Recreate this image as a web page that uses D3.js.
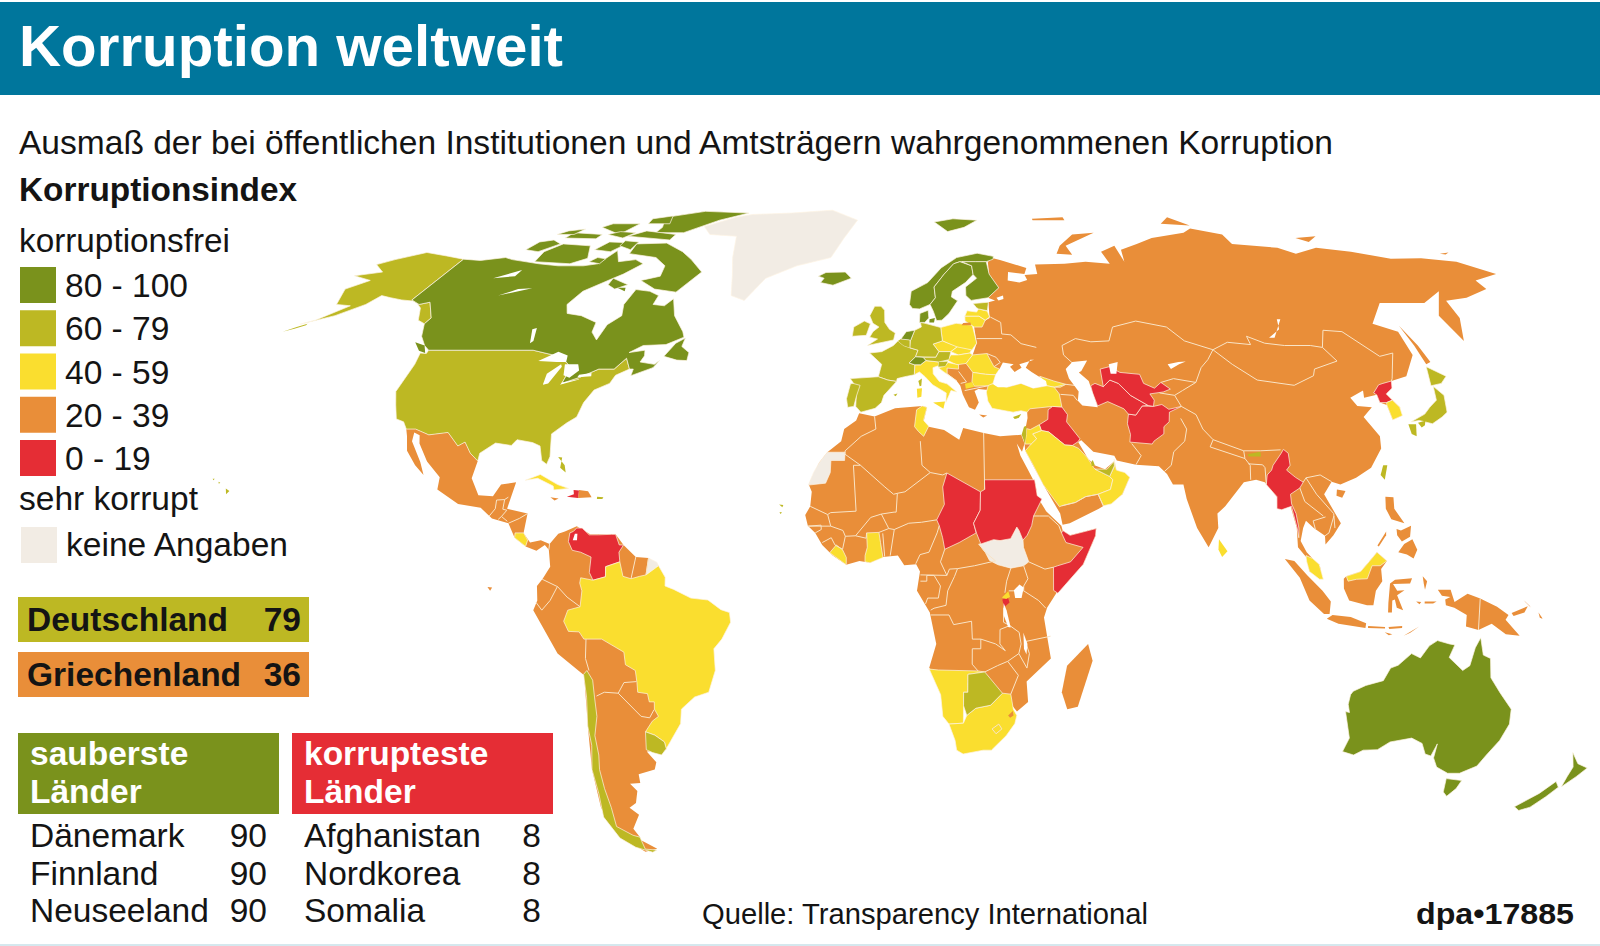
<!DOCTYPE html>
<html lang="de">
<head>
<meta charset="utf-8">
<title>Korruption weltweit</title>
<script src="https://cdn.jsdelivr.net/npm/d3@7"></script>
<style>
  html, body { margin: 0; padding: 0; background: #fff; }
  svg { display: block; font-family: "Liberation Sans", Arial, sans-serif; }
</style>
</head>
<body>
<svg id="chart" width="1600" height="946"></svg>
<script>
// Legend and tables
const legendLabels = ['80 - 100', '60 - 79', '40 - 59', '20 - 39', '0 - 19'];
const highlightNames = ['Deutschland', 'Griechenland'];
const highlightValues = [79, 36];
const cleanestNames = ['Dänemark', 'Finnland', 'Neuseeland'];
const cleanestValues = [90, 90, 90];
const mostCorruptNames = ['Afghanistan', 'Nordkorea', 'Somalia'];
const mostCorruptValues = [8, 8, 8];

// Country outlines as rough [lon, lat] rings, one list per index band
const band20to39 = [
  // Eurasia (everything not overdrawn by another band below)
  [[30.8,69.8],[33,69.4],[41,67.5],[40,66],[35,66.5],[34.5,64.5],[38,64],[40.5,64.6],[40,65.8],[44,66],[44,68.3],[53.5,68.5],[60.5,69],[68,68.5],[67,71.5],[72.5,73],[73,69],[74,72],[80.5,73.5],[87,75],[100,76.5],[104,77.7],[113,76],[113,73.5],[127,72.5],[131,71],[140,72.5],[150,71.5],[160,69.7],[170,69.8],[180,69],[187,66],[181,65],[178,64.5],[178,62.5],[169,60.5],[162,59.8],[161,56],[156.5,51],[155.7,56.5],[163,62],[155,59.3],[142,59.3],[135,54.7],[140.5,53],[140,48],[135,43.5],[130.5,42.5],[127.5,39.8],[129.5,37],[129,35.2],[126.5,34.5],[126.5,37.5],[125,38],[125,39.6],[121.5,39],[122,40.5],[118,39],[119,37.3],[122.5,37],[119.5,35],[122,31],[121.5,28.5],[118,24.5],[114,22.4],[110,21],[108,21.6],[105.8,19],[109,13],[107,10.5],[105,8.6],[105,10.4],[102.5,12],[100.8,13.5],[100,12],[99.2,9.3],[100.5,7],[103.5,4],[104,1.4],[101,3],[100.3,6],[98.5,8],[98.5,12],[97.5,16.5],[94.5,16],[94.5,18.5],[92,21.5],[90,22],[87,21.5],[82,16.5],[80,15],[80,12],[78,8.8],[77.5,8],[75,12],[73,18],[72.5,21],[70,21],[68.8,23.2],[67,24.8],[61.5,25.1],[57,26],[56.5,27],[51.5,27.8],[48.8,30.2],[48,29.8],[50,26.5],[51.5,25],[54,24.2],[56.3,25.8],[56.7,24],[59.8,22.5],[57.8,19],[52,16],[45,13],[43.3,12.7],[42.8,15],[39,21],[35,28],[34.9,29.5],[35,31.5],[36,34.8],[36,36.5],[30.5,36.5],[27.3,37],[26.3,39.5],[26.5,40.6],[24,40.8],[23,40.4],[24,38],[23,36.5],[21.5,37],[20,39.7],[19.4,41.5],[18.5,42.5],[16,44],[16,45.2],[19,46],[22.8,48],[24,50.5],[23.5,54],[28,56],[28,59.5],[30,59.9],[28,60.5],[31.5,62.8],[29,66],[29,69]],
  // Africa (the far south is overdrawn by its own countries)
  [[-5.9,35.8],[-2,35.1],[3,36.8],[9.8,37.3],[11,37],[10.2,34],[11.5,33],[15.3,32.3],[19,30.3],[20,32.7],[25,31.7],[29,31],[32.3,31.2],[34.2,31.3],[34.9,29.5],[34.2,27.8],[33,29.5],[33.8,27],[35.5,24],[37.2,21],[37.5,18.5],[39.5,15.5],[43,12.5],[43.3,11.5],[45,10.5],[51.2,11.9],[51,10.4],[48,4.5],[42,-1],[39.5,-4.5],[38.8,-6.5],[39.5,-10],[40.6,-15],[35,-19.8],[35.5,-24],[32.9,-26],[31,-24],[25,-21],[14,-18.5],[11.8,-17],[13.5,-12],[12,-5.5],[9,-1],[9.7,3],[8.8,4.5],[6,4.3],[4.5,6.3],[1,6],[-2,4.8],[-4.5,5.2],[-7.6,4.4],[-10.8,6.3],[-13.3,8.5],[-15,11],[-16.8,12.5],[-17.5,14.7],[-16.4,16.5],[-16.2,19.5],[-17,21],[-14.8,25.5],[-13,27.7],[-9.8,30],[-9.3,32.5],[-6.5,34.3]],
  // South America (Brazil is overdrawn)
  [[-77.4,8.7],[-75.5,10.8],[-74,11.3],[-71.3,12.4],[-68,10.7],[-62,10.7],[-60,8.5],[-57,6],[-54,5.8],[-51.6,4.2],[-52,0],[-50,-10],[-50,-20],[-52,-30],[-53.5,-33.9],[-58.4,-34.3],[-56.7,-36.5],[-57.6,-38],[-62,-39],[-62.3,-40.8],[-65,-41],[-63.8,-42.5],[-65.3,-45],[-67.5,-46],[-65.8,-47.5],[-69,-50.5],[-68.4,-52.3],[-68.5,-53],[-65.2,-54.8],[-69,-55.5],[-74,-52],[-75,-46],[-73.4,-38],[-71.5,-30],[-70.3,-18.5],[-76,-14],[-81,-5],[-80,-3],[-80,0],[-78.7,1.5],[-77,4],[-77.5,7.5]],
  // Mexico and Central America
  [[-117.1,32.5],[-114.8,32.5],[-111,31.3],[-106.5,31.8],[-103,29],[-101.5,29.8],[-99.5,27.5],[-97.2,25.9],[-97.8,22.3],[-95.5,18.8],[-92,18.6],[-90.5,21],[-87,21.5],[-87.7,18.3],[-88.2,16],[-83.2,15],[-83.7,11],[-82,9],[-79.5,9.5],[-77.4,8.7],[-77.5,7.5],[-78.5,8.5],[-80.4,7.3],[-83,8.2],[-85.7,10],[-87.5,13],[-91.5,14],[-94.5,16.2],[-100,17],[-105.5,20],[-105.5,22.5],[-109.4,25.8],[-112.5,29.5],[-113.2,31.2],[-114.8,31.8],[-114.5,30],[-111,25.7],[-109.5,23],[-112,25],[-115,28],[-116.2,31]],
  // Islands
  [[142,54.3],[143,50],[143.5,46.5],[142,46],[142,50]],
  [[109,20],[111,19.7],[110,18.3],[108.7,18.7]],
  [[52,71],[57,70.7],[56,73],[68,76.5],[60,76],[54,73]],
  [[95,79],[105,78.5],[100,81]],
  [[137,75],[145,75.5],[140,74]],
  [[178.5,71],[182,71.3],[180,70.8]],
  [[48,80.5],[60,81],[60,80],[48,80]],
  [[24,35.5],[26,35.3],[25,34.9]],
  [[49.3,-12],[50.5,-15.5],[47.5,-25],[45,-25.5],[43.5,-22],[44.5,-16.5]],
  [[-71.7,18.2],[-68.5,18.4],[-69.5,19.6],[-71.7,19.9]],
  [[-78.3,18.4],[-76.3,18.1],[-77.2,17.7]],
  [[-91.6,-0.2],[-90.5,-0.3],[-91,-1]],
  // Indonesia, New Guinea, Philippines
  [[95.3,5.6],[97.5,5.2],[100.5,2.2],[104,-1],[106,-3.2],[105.8,-5.8],[104.5,-5.8],[101,-3],[98.7,1.7]],
  [[105.2,-6.8],[106.5,-6],[110.8,-6.4],[114.5,-7.7],[114.4,-8.7],[108,-7.8]],
  [[115,-8.3],[119,-8.5],[119,-8.8],[115,-8.7]],
  [[119.8,-8.5],[123,-8.3],[123,-8.7],[120,-8.9]],
  [[119,-9.6],[120.8,-10],[120,-10.2]],
  [[123.5,-10.3],[127,-8.4],[125,-9.7]],
  [[109,1.5],[109.6,2],[113,3],[115,5],[117,7],[119.2,5.2],[117.8,3.5],[118,1],[116.5,-1],[116,-4],[114.5,-4],[110.3,-3],[109,-0.5]],
  [[119.5,-3.5],[119.8,0.5],[121,1.3],[125,1.6],[124.5,0.5],[120.5,0.4],[121.5,-1],[123.2,-0.9],[121.5,-1.9],[123,-5],[121.5,-4.5],[121,-2.8],[120.4,-3],[120.4,-5.5],[119.5,-5.5]],
  [[127.5,2],[128.5,1],[128,-0.8],[127.7,0.5]],
  [[128,-3.2],[130.8,-3.2],[130,-3.6],[128,-3.6]],
  [[126,-3.2],[127.2,-3.3],[126.8,-3.8]],
  [[131,-0.8],[134,-0.8],[135,-3.3],[138,-1.6],[141,-2.6],[145,-4.3],[147.8,-6],[147.2,-7],[150.8,-10.3],[147.5,-10],[144,-7.8],[141,-9.1],[138,-8.4],[138,-6],[135,-4.5],[133,-4],[132.8,-2.8],[134,-2.3],[132,-2]],
  [[148.5,-5.6],[152.2,-4.2],[151.5,-5.5],[149,-6.2]],
  [[151,-2.8],[153,-4.5],[152.5,-4]],
  [[154.8,-5.5],[155.9,-6.8],[155.2,-6.6]],
  [[120.3,18.5],[122.2,18.4],[122,16],[124,13],[121,13.8],[120,16]],
  [[122,7],[123.5,8.7],[125.5,9.7],[126.5,7.5],[125.5,5.7],[124,6.5]],
  [[122,11.8],[123,11.5],[125.5,12.5],[125,10.2],[123,9.2],[122,10.5]],
  [[117.2,8.4],[119.5,11.3],[119.4,10.5],[117.5,8.2]]
];

// Orange spots inside neighbours of another band: Swaziland, Kaliningrad
const band20to39Enclaves = [
  [[30.8,-26.8],[31.9,-25.9],[32.1,-26.8],[31.3,-27.3]],
  [[20.5,54.9],[22.5,55],[22.7,54.4],[20,54.4]]
];

const band0to19 = [
  [[16,23.4],[24,19.5],[23.9,15.7],[22.3,13],[22.9,11],[18.9,9],[15.5,7.6],[15,10],[14.2,12.5],[13.6,13.7],[15.4,16.9],[15,20.5]],
  [[24,19.5],[25,20],[25,22],[37,22],[37.5,18.7],[38.6,18],[36.5,14.5],[36,12.5],[34.9,10.5],[33.9,9.5],[33,11.5],[32.5,12.2],[31,9.8],[28.5,9.4],[27,9.6],[24,8.7],[23,10.9],[22.3,13],[23.9,15.7]],
  [[43,11],[43.3,11.5],[45,10.5],[51.2,11.9],[51,10.4],[48,4.5],[42,-1.5],[41,-0.9],[41,3.9],[42,4.2],[45,5],[48,8],[44,9]],
  [[29,-2.8],[30.3,-2.4],[30.7,-3.4],[29.4,-4.4]],
  [[-74.4,18.5],[-71.7,18.2],[-71.7,19.8],[-73,19.9],[-72.8,19]],
  [[-71.3,12],[-70,12],[-68.2,10.6],[-66,10.6],[-63,10.7],[-62,10.7],[-61,8.5],[-60,8.5],[-61,7],[-60.7,5],[-64,4],[-64,1.9],[-66.9,1.2],[-67.8,2.8],[-67.5,6],[-70,7],[-72,7.4],[-73,9.2],[-72.8,11],[-72,11.3]],
  [[92.3,21],[92.8,23],[94,24],[94.5,25],[97,27.5],[97.7,28.3],[98.7,27.5],[98.6,25],[97.6,24],[99.5,22.5],[101.2,21.5],[100.2,20.3],[97.8,19],[97.8,17],[98.6,15],[99,12],[98.8,10],[98.6,12],[97.7,16.5],[95.3,15.8],[94.2,16],[94.5,18.5]],
  [[60.6,29.8],[61,31.4],[60.6,33.6],[61.2,35.6],[63,35.4],[65,37.3],[67.8,37.2],[70,37.6],[71.5,36.6],[74.8,37.2],[71.5,36],[71,34],[69.5,33],[69.2,31.5],[66.5,30],[66,29.4]],
  [[52.8,41.5],[53,40],[53.8,37.3],[56.5,38.2],[60.3,36.7],[61.2,35.6],[63,35.4],[65,37.3],[66.5,37.4],[62.5,39.5],[60,42],[58,42.7],[56,41.3],[54,42]],
  [[56,45],[56,41.3],[58,42.7],[60,42],[62.5,39.5],[66.5,37.4],[67.8,37.2],[68.3,38.5],[67.5,39.8],[71,40.2],[73,40.8],[71,42.2],[69,41],[66.5,42],[66,43.9],[61,44.3],[58.5,45.5]],
  [[38.8,33.4],[41,34.5],[41.3,36.5],[42.5,37.2],[44.8,37.1],[46,35.5],[45.6,34],[48.5,30.5],[48,29.9],[46.5,29.1],[44.7,29.2],[41,31.9],[39.2,32.2]],
  [[124.4,40],[125,39.6],[125,38],[126.7,38],[128.4,38.5],[127.5,39.8],[129.7,41],[130.5,42.5],[128,42],[126.7,41.7]]
];

const band40to59 = [
  [[9.8,37.3],[11,37],[10.2,34.3],[11.5,33.1],[10.3,31],[9,32],[8,33],[8.4,36.5]],
  [[-3.2,5],[-2,4.8],[1,5.9],[0.4,9],[0,11.1],[-2.9,11],[-2.7,8],[-3.2,6.3]],
  [[-11.5,6.9],[-7.6,4.4],[-7.6,5.9],[-8.5,7.5],[-10,8.5]],
  [[11.8,-17.2],[14,-17.4],[23.4,-17.6],[25,-17.8],[21,-18.3],[21,-22],[20,-22],[20,-28.4],[16.5,-28.6],[15,-27],[14.5,-22.5]],
  [[16.5,-28.6],[20,-28.4],[20.8,-26.8],[23,-25.3],[26.5,-24.7],[29.3,-22.2],[31.3,-22.4],[32,-25.5],[32.9,-26.8],[32.5,-28.5],[30.5,-31],[27,-34],[25,-34],[20,-34.8],[18.4,-34],[18,-32]],
  [[28.9,-2.4],[30.4,-1.1],[30.8,-2.3],[29.9,-2.7]],
  [[-51.6,4.2],[-50,1.8],[-50,0],[-48,-0.7],[-44,-2.5],[-40,-2.9],[-37,-4.9],[-35,-5.5],[-34.8,-7.5],[-37,-11],[-39,-13],[-39,-17.5],[-41,-22],[-44.5,-23],[-48,-25.5],[-48.7,-28.5],[-52,-32.2],[-53.4,-33.7],[-53.5,-32.3],[-55.5,-30.9],[-57.6,-30.2],[-55.5,-28],[-53.8,-27],[-54.5,-25.5],[-54.3,-24],[-55.5,-24],[-55.7,-22.3],[-58,-22],[-57.9,-20],[-58,-17.5],[-60.2,-16.3],[-60.3,-13.7],[-65.3,-11],[-69.5,-11],[-70.5,-9.5],[-73,-9.4],[-74,-7.3],[-72.9,-5],[-70,-4.3],[-69.5,-1],[-70,0.6],[-69.8,1.7],[-66.9,1.2],[-64,1.9],[-64,4],[-60.7,5],[-59.9,2],[-58,1.5],[-56,2],[-54.5,2.3]],
  [[-85.7,11],[-83.7,11],[-82.6,9.5],[-83,8.2],[-85.7,10]],
  [[-84.9,21.9],[-81.5,23.1],[-77,21],[-74.2,20.2],[-77.7,19.9],[-78,20.7],[-82,22.3]],
  [[35,28],[36.5,29.4],[37.9,30.5],[37,31.5],[39.2,32.2],[41,31.9],[44.7,29.2],[46.5,29.1],[48,28.5],[50,26.5],[51.3,24.5],[51.6,24.2],[55,22.7],[55.7,22],[55,20],[52,19],[49,18.5],[46.5,17.3],[43.2,16.6],[42.7,16.4],[39,21],[36.5,25.5]],
  [[35,29.4],[36.5,29.4],[37.9,30.5],[37,31.5],[39.2,32.2],[38.8,33.4],[36.5,32.4],[35.6,32.6],[35.4,31.3]],
  [[55.7,22],[55,22.7],[56.3,24.8],[56.4,26.3],[56.7,24],[58.7,23.5],[59.8,22.5],[57.8,19],[55,17],[53.1,16.6],[52,19],[55,20]],
  [[40,43.5],[43.5,42.5],[46.5,41.8],[45,41.2],[43.4,41.2],[41.6,41.5]],
  [[26,40.2],[26.7,41.9],[28,41.9],[31.3,41.2],[35,42],[38,41],[41.6,41.5],[43.4,41.2],[44.5,39.8],[44.8,37.1],[42.5,37.2],[36.7,36.7],[36,36],[34.5,36.3],[32.5,36],[30.5,36.3],[27.3,36.8],[26.3,38.3]],
  [[80,9.7],[81.9,7.2],[80.6,6],[79.8,7.5]],
  [[126.7,38],[128.4,38.5],[129.5,37],[129.3,35.3],[126.5,34.4],[126.5,37.5]],
  [[100.3,6.3],[101.8,5.7],[103.3,4.5],[104.2,1.4],[103.3,1.4],[101,3],[100.4,5]],
  [[109.6,2],[113,3],[115,5],[117,7],[119.2,5.2],[117.6,4.2],[115.7,4.2],[114.5,1.5],[112,1.4],[110,1]],
  [[7.5,43.8],[7.5,45.9],[9,45.9],[10.4,46.8],[13.8,46.5],[13.7,45.7],[12.3,45.3],[12.4,44],[14,42.4],[16,41.9],[18.5,40.2],[17,40.5],[16.5,39.5],[15.7,38],[15.8,40],[12.3,41.7],[10.3,43.4],[8.8,44.4]],
  [[12.5,38],[15.5,38.2],[15.1,36.7]],
  [[8.3,40.9],[9.6,41],[9.5,39.2],[8.5,39]],
  [[14.2,53.9],[18.5,54.8],[23,54.4],[24,50.5],[22.6,49],[19,49.4],[14.7,51]],
  [[12.2,50.3],[14.7,51],[18.7,49.7],[17,48.7],[13.8,48.7]],
  [[17,48.7],[18.7,49.7],[22.5,49.1],[22.1,48.4],[19,48]],
  [[16.2,47],[17,48],[19,48],[22.1,48.4],[22.8,48],[21,46.2],[18.5,45.9],[16.2,46.8]],
  [[22.8,48],[26.6,48.3],[28.3,45.5],[29.7,45],[28.6,43.8],[26,43.9],[22.7,44.3],[21,46.2]],
  [[22.7,44.3],[26,43.9],[28.6,43.8],[27.8,42],[26.4,41.5],[23,41.4],[22.4,42.3]],
  [[13.7,45.3],[15.5,45.6],[16.2,46.4],[19,45.9],[19,45],[16,45.2],[16,44],[18.5,42.5],[15,44.5]],
  [[20.6,41.9],[22.4,42.3],[23,41.3],[20.8,40.9]],
  [[21,55.3],[21,56.4],[25,56.4],[26.7,55.5],[25.7,54],[23.5,54],[22.8,54.4]],
  [[21,56.4],[21.7,57.6],[24.4,57.3],[25,58],[27.5,57.5],[28,56.2],[26.7,55.5],[25,56.4]]
];

const band60to79 = [
  [[-123,49],[-95,49],[-89,48],[-84.5,46.5],[-82.5,45.3],[-83,42],[-79,43.3],[-75,45],[-71,45],[-69,47.3],[-67,45],[-70,43.7],[-70.7,42],[-74,40.6],[-75.5,38],[-76,35],[-78,33.8],[-81,31.5],[-80,26.8],[-80.4,25.2],[-81.8,26],[-83,29],[-85,29.7],[-89,30.3],[-90,29.1],[-94,29.6],[-97.2,27.5],[-97.2,25.9],[-99.5,27.5],[-101.5,29.8],[-103,29],[-106.5,31.8],[-111,31.3],[-114.8,32.5],[-117.1,32.5],[-118.5,34],[-120.6,34.6],[-122.5,37.5],[-124.3,40.3],[-124,46],[-124.7,48.4],[-123,48.3]],
  [[-141,69.6],[-148,70.4],[-156.5,71.3],[-163,69.5],[-166.5,68.3],[-161,66.5],[-168,65.6],[-161,64.5],[-165,62.5],[-161.5,59],[-157,58.7],[-162,55.5],[-165,54.6],[-158,56.5],[-153,59],[-151.5,61],[-148,60.5],[-144,60],[-139.5,59.7],[-136,58.2],[-133,55.5],[-130.3,54.7],[-130,56],[-135,59.5],[-137.5,59],[-141,60]],
  [[-163,54.7],[-165,54],[-167.5,53],[-165,53.7],[-163,54.4]],
  [[-156,20.2],[-155,19.7],[-155.6,19]],
  [[-158.2,21.6],[-157.7,21.4],[-158,21.2]],
  [[-159.8,22.2],[-159.3,22.2],[-159.5,21.9]],
  [[-67.2,18.5],[-65.7,18.4],[-65.9,18],[-67.2,18]],
  [[-78,26.7],[-77,26.6],[-77,24.5],[-75.5,23.5],[-76,25]],
  [[-23.8,16.9],[-22.8,16.8],[-23,16.3]],
  [[-23.6,15.3],[-23,15.2],[-23.4,14.9]],
  [[-70.4,-18.3],[-69.5,-17.5],[-68.4,-19.5],[-68.5,-23],[-68.7,-27],[-70.2,-31],[-70.5,-35],[-71.5,-38],[-72,-42],[-72.3,-46],[-73.2,-50],[-70,-51.9],[-68.4,-52.3],[-68.6,-54.9],[-65.5,-55.1],[-67,-55.6],[-71,-54.5],[-74,-52.5],[-75.5,-48],[-74,-43],[-73.4,-38],[-71.6,-33],[-71.4,-29],[-70.4,-23]],
  [[-58.4,-33.9],[-57.6,-30.2],[-55.5,-30.9],[-53.5,-32.3],[-53.4,-33.7],[-54.9,-35],[-57,-34.5]],
  [[21,-18.3],[25,-17.8],[29.3,-22.2],[26.5,-24.7],[23,-25.3],[20.8,-26.8],[20,-24.8],[20,-22],[21,-22]],
  [[-5.5,50],[1.4,51.2],[1.7,52.7],[0,53.5],[-1.5,55],[-2,57.7],[-3.2,58.6],[-5,58.6],[-6,56.5],[-4.8,54.8],[-3,54],[-4.5,53],[-5.2,51.8],[-3,51.4]],
  [[-10,52],[-6.2,52.2],[-5.5,54.7],[-7.3,55.3],[-10,54]],
  [[-1.8,43.4],[-1.2,46],[-4.7,48.4],[-1.5,48.7],[1.5,50],[2.6,51],[4.2,50],[6,49.5],[8.2,49],[7.6,47.6],[6,46.3],[7.5,45.9],[7.5,43.8],[5,43.4],[3.1,43],[3,42.4],[0.7,42.7]],
  [[8.6,42.5],[9.5,43],[9.4,41.5],[9,41.4]],
  [[-9,43],[-1.8,43.4],[0.7,42.7],[3,42.4],[0,39.5],[-0.5,38],[-2,36.8],[-5.5,36],[-6.9,37.2],[-7,39.5],[-8,42]],
  [[-8.8,41.9],[-8.2,42],[-6.3,41.6],[-6.9,39.5],[-7.4,37.2],[-8.9,37],[-9.4,38.8]],
  [[2.4,39.6],[3.4,39.9],[3,39.3]],
  [[2.6,51],[3.4,51.4],[5.8,51.2],[6,49.5],[4.2,50]],
  [[6,51],[7,53.3],[8.8,54],[8.5,55],[9.8,54.8],[14.2,53.9],[14.7,51],[12.2,50.3],[13.8,48.7],[13,47.5],[7.6,47.6],[8.2,49],[6,49.5]],
  [[9.6,47.5],[13,47.5],[13.8,48.7],[17,48.7],[16.5,47],[13.8,46.5],[10.4,46.8]],
  [[13.7,45.5],[13.8,46.5],[16.2,46.6],[15.5,45.6]],
  [[23.5,59.2],[28,59.5],[27.5,57.6],[25,58],[24.4,58.3]],
  [[32.4,35],[34.5,35.6],[33.8,34.8],[32.8,34.6]],
  [[34.3,31.3],[35,29.5],[35.4,31.3],[35.6,33.2],[35,33]],
  [[51.6,24.2],[54.5,24.2],[56.3,25.8],[56.3,24.9],[55,22.7]],
  [[50.8,24.8],[51.6,25],[51.2,26.1],[50.8,25.7]],
  [[88.8,27.3],[92,27.8],[92,26.8],[89,26.8]],
  [[121,25],[122,25],[120.8,22],[120,23]],
  [[130.9,34],[135,35.6],[137,37],[139.5,38.5],[140.5,41.4],[142,39.5],[140.8,36],[139,35],[136,33.6],[133,34.3]],
  [[140,41.5],[141.6,45.5],[145.3,43.5],[143,42]],
  [[130,33.5],[131.9,33.5],[131,31],[130,31.5]],
  [[132.5,33.8],[134.5,34.2],[134,33.3],[133,32.8]]
];

const band80to100 = [
  [[-141,69.6],[-135,69.3],[-128,70],[-125,69.5],[-115,68.5],[-108,68],[-100,68],[-96,68.5],[-94,71.8],[-90,69],[-85,69.5],[-81.5,68.5],[-85,66],[-87,65],[-93,62],[-94.5,59],[-92.5,57],[-88,56.5],[-82.5,55],[-82,52.9],[-79.5,51.2],[-79,54.5],[-76.5,56.5],[-78,59],[-77.5,62.4],[-73,62],[-69.5,61],[-69.5,59],[-66,58.7],[-64.5,60.3],[-61.5,56.5],[-57,53],[-56,51.8],[-60,50.2],[-66,50],[-69,48.5],[-65,49],[-64.5,47.8],[-65,46.5],[-61,46],[-60,46.8],[-61,45.3],[-66,43.6],[-66,45],[-67,45],[-69,47.3],[-71,45],[-75,45],[-79,43.3],[-83,42],[-82.5,45.3],[-84.5,46.5],[-89,48],[-95,49],[-123,49],[-125,50],[-128,52],[-130.3,54.7],[-130,56],[-135,59.5],[-137.5,59],[-141,60]],
  [[-128.3,50.7],[-125,50],[-123.4,48.4],[-125.5,48.9]],
  [[-59.3,47.7],[-57.5,50.5],[-55.5,51.6],[-55.5,49.8],[-53,48.5],[-52.8,46.8],[-55.5,46.9]],
  [[-61,66.5],[-65,61.8],[-72,62.5],[-78,64.5],[-73,65.5],[-74,68],[-79,70],[-89,71],[-90,73.5],[-80,73.7],[-72,71.5],[-67,69.5]],
  [[-117,69],[-105,68.5],[-101,69.8],[-105,73],[-115,73.5],[-118,71.5]],
  [[-125,72],[-120,71.5],[-116,73.5],[-120,74.5],[-124,74]],
  [[-88,76.5],[-78,76.5],[-70,80],[-62,82.5],[-80,83.1],[-92,81],[-88,78]],
  [[-96,75.5],[-80,74.5],[-80,76],[-92,77]],
  [[-95,79],[-87,79],[-90,81.5],[-96,80.5]],
  [[-117,75],[-106,74.8],[-106,76],[-117,76.5]],
  [[-102,72],[-96,71.5],[-93,73.8],[-100,74]],
  [[-87,65],[-81,63.5],[-84,62.5],[-87,63.5]],
  [[-95,73],[-90,72],[-90,74],[-95,74.3]],
  [[-110,78],[-100,76],[-98,79],[-108,79]],
  [[-104,76],[-97,75],[-95,76.5],[-101,76.8]],
  [[-122,76],[-116,76],[-115,77.5],[-120,77]],
  [[-99.5,69],[-95.5,68.5],[-95,69.7],[-98,70]],
  [[-83.5,62.8],[-80.5,62],[-81,62.8]],
  [[5,59],[5.2,62],[10,64],[14,67.5],[19,70],[25.8,71.1],[31,70.3],[30.8,69.6],[28.5,69],[25,69],[20,69],[18,68.5],[15,66],[13.5,64.5],[12,63],[12.5,60.5],[11,59],[8,58],[6,58.1]],
  [[11,59],[12.5,60.5],[12,63],[13.5,64.5],[15,66],[18,68.5],[20,69],[23.7,68],[24,65.9],[21.5,64],[17.5,62],[17.2,60.7],[19,59.8],[16.5,57],[14.5,55.5],[13,55.4],[12,57.5]],
  [[20.7,69],[25,69],[28.5,69],[29,66],[31.5,62.8],[28,60.5],[23,59.9],[21.5,61],[21.5,63],[25,65],[24,65.9],[23.7,68]],
  [[8.2,55],[8.2,57],[10.5,57.7],[10.8,56],[9.7,55]],
  [[11,55.7],[12.5,56],[12.3,55],[11,55]],
  [[-24,65.5],[-22,66.4],[-16,66.5],[-13.6,65],[-18.7,63.4],[-22.7,64],[-22,65]],
  [[11,79.5],[16,76.8],[22,78],[27,80],[18,80.5]],
  [[3.4,51.4],[4.7,53],[7,53.3],[6,51],[5.8,51.2]],
  [[6,46.3],[7.6,47.6],[9.6,47.5],[10.4,46.8],[9,45.9],[7.5,45.9]],
  [[112.7,-22.5],[113.2,-21.8],[116,-20.6],[120,-19.6],[121.3,-17],[123,-16.4],[125.8,-14],[128,-14.9],[129.8,-12.4],[131.6,-11.3],[134.5,-12],[135.8,-12.2],[134.8,-14.8],[138.5,-17.5],[140,-16.5],[140.7,-12.8],[141.7,-10.7],[142.8,-14.3],[144.6,-15],[145.5,-19],[148.5,-22.2],[152,-25.5],[152.7,-28.6],[151.8,-32],[150,-35],[149,-37.3],[145.5,-38.8],[142.5,-38.8],[139,-37.5],[137.2,-35.6],[136.8,-32.7],[136.3,-35.2],[134.7,-34.8],[133,-32.6],[130,-31.5],[125,-32.3],[122.5,-33.9],[119,-34],[117,-35],[114,-34.3],[114.7,-31.5],[112.2,-26],[113.2,-26.2],[112.5,-24.5]],
  [[142.8,-39.9],[147,-40.3],[146.8,-42],[145.5,-43.6],[144,-42.7]],
  [[171.2,-34.5],[174,-36.8],[177,-37.7],[175.5,-39.5],[173.5,-41.6],[173.2,-39.5],[173.3,-37.5]],
  [[171.2,-40.5],[172.8,-41.7],[171.3,-43.7],[169.2,-45.9],[166.9,-46.6],[165,-45.8],[169,-43]]
];

const noDataRings = [
  [[-73,78.2],[-68,76],[-58,75.5],[-54,70],[-51,66],[-48,61],[-43.5,59.9],[-40,65],[-32,68],[-22,70],[-20,75],[-18,80],[-30,83.5],[-45,82.5],[-60,82],[-65,81]],
  [[-17.1,20.9],[-13,21.3],[-12,23.5],[-12,26],[-8.7,26],[-8.7,27.7],[-13,27.7],[-14.8,25.5],[-16,23.5]],
  [[24,8.7],[27,9.6],[28.5,9.4],[31,9.8],[32.5,12.2],[33,11.5],[33.9,9.5],[34,8],[35.2,5],[34,4.2],[31,3.7],[28,4.4],[26,5.3],[25,7],[23.5,8.7]],
  [[-54.5,2.3],[-54,5.8],[-52,4.9],[-51.6,4.2],[-52.5,2.6]]
];

// Lakes and inland seas
const waterRings = [
  [[28,41.7],[29,41.2],[31.3,41.2],[35,42],[38,41],[41.6,41.5],[41.5,42.5],[38,44.4],[36.6,45.3],[38,47],[39,47],[35,46],[35.5,45.3],[33.6,44.4],[32.5,45.5],[33.5,46],[30.7,46.4],[29.7,45],[28.6,43.8],[27.8,42]],
  [[47,45],[49,46.5],[53,46.8],[51,44.6],[50.3,44.3],[52.5,42.5],[53,40],[53.8,37],[50,37.4],[49,38.4],[49.5,40.3],[47.5,43]],
  [[58.5,46],[61,46.5],[60,44],[58.5,44]],
  [[104,51.7],[105.5,51.7],[110,55.7],[109,55.7],[108,53.5]],
  [[74,46],[77,46.5],[79,46.6],[77,46],[74.5,45]],
  [[30.5,60.5],[32.5,61],[32.5,60.2],[31,59.9]],
  [[31.7,-0.9],[33,0.3],[34,-0.3],[33.5,-2.5],[32,-2.5]],
  [[29.3,-3.5],[30,-5],[31,-8.6],[30.4,-8.5],[29.3,-6]],
  [[34,-9.7],[35,-12],[34.8,-14.2],[34.2,-13]],
  [[-92,46.7],[-88,48.7],[-85,47.9],[-84.5,46.5],[-87,46.5]],
  [[-88,44],[-85.5,46],[-85,45.5],[-86.5,42],[-87.7,41.7]],
  [[-84.5,46],[-81,46],[-80,44.7],[-81.7,43.2],[-83.5,43.7]],
  [[-83.3,41.7],[-79,42.8],[-79,42.9],[-83,42.2]],
  [[-79.7,43.3],[-76.2,43.5],[-76.5,44.2],[-79.5,43.8]],
  [[-97,50.5],[-99,53.5],[-98,53.8],[-96.5,51]],
  [[-117,61],[-109,62.7],[-113,62.5]],
  [[-124,65],[-118,67],[-118,65.5]],
  [[-71.6,10.8],[-71,10.8],[-71,9.5],[-72,9.5]]
];

// Borders inside the areas above
const borderLines = [
  // Central and South America
  [[-92.2,14.5],[-91,16],[-91,17.8],[-89.1,17.9],[-88.3,18.4]],[[-89.1,17.9],[-89.2,15.9],[-88.2,15.7],[-89.3,14.4],[-90,13.8]],[[-89.3,14.4],[-87.8,13.4]],[[-87.5,13],[-85,14],[-83.2,15]],[[-77.4,8.7],[-77.5,7.5]],
  [[-78.8,1.4],[-75.5,0],[-75.2,-0.1],[-73,-2.3],[-70,-4.3]],[[-80.3,-3.4],[-79,-5],[-77,-3],[-75.2,-0.1]],[[-69,-11],[-69.5,-15],[-69,-17.5]],[[-68,-22.8],[-66,-22],[-62.7,-22.2],[-61,-20],[-58,-19.8]],[[-62.7,-22.2],[-58,-27],[-56,-27.3],[-54.6,-25.6]],[[-57,6],[-58,1.5]],[[-54,5.8],[-54.5,2.3]],
  // Africa
  [[-2,35.1],[-1.5,32.5],[-5,31],[-8.7,28],[-8.7,27.3],[-4.8,25],[1.2,20.5],[3.3,19],[4.2,19.2],[6,19.5],[12,23.5],[10,25],[9.5,30]],[[12,23.5],[15,23],[16,23.4]],[[25,31.7],[25,20]],[[-4.8,25],[-6.5,25],[-5.5,15.5],[-11.5,15.2],[-12.2,14.8],[-16.4,16.5]],[[4.2,19.2],[4,15.3],[3.5,15.3],[0.5,14.9],[-2,14.2],[-5.5,10.4]],[[-12.2,14.8],[-11.4,12.4],[-8.5,11.5],[-7.9,10.3],[-5.5,10.4],[-3,9.9],[-2.9,11]],[[0,11.1],[2.3,11.9],[0.5,14.9]],[[-16.8,12.4],[-11.4,12.4]],[[-16.7,12.4],[-13.7,12.6],[-13.6,11.7],[-15,11]],[[-13.3,9],[-11.2,10],[-10.3,8.5],[-8.5,7.6],[-7.9,10.3]],[[1.4,6.1],[0.9,10.9]],[[2.7,6.3],[3.6,11.7],[2.3,11.9]],[[3.6,11.7],[7,13],[10,13.2],[13.6,13.7]],[[8.7,4.6],[9.7,6.5],[11.8,7],[13.7,11],[14.2,12.5]],[[15.5,7.6],[14.5,5],[16,2.2],[9.8,2.3]],[[9.8,1],[11.3,1],[11.3,2.2],[13,2.2],[14.5,0],[14,-2.5],[11.5,-2.5],[11,-3.7]],[[12.2,-5],[13,-4.6],[15.8,-4],[16.2,-1],[17.8,2],[18.5,3.6],[22.5,4.2],[27.4,5.2],[25,7],[23.5,8.7]],[[16,2.2],[16.6,3.5],[18.5,3.6]],[[31,3.7],[30,1],[29.6,-1.4]],[[29.3,-4.5],[29.3,-7.5],[30.8,-8.2],[28.5,-9],[28.5,-12],[29.8,-13.4],[27.5,-12],[24,-11],[22,-11],[21.8,-7.3],[17.6,-8],[16.5,-6],[12.2,-6]],[[24,-11],[24,-13],[22,-13],[22,-16.2],[23.4,-17.6]],[[25,-17.8],[28,-16.5],[30.4,-15.6],[33,-14]],[[33,-9.6],[33.5,-12],[33,-14],[35,-17],[35.5,-14],[34.5,-11.5],[40.4,-10.4]],[[30.8,-8.2],[33,-9.6]],[[30.4,-15.6],[33,-18.5],[31.3,-22.4]],[[34,-1],[37.5,-3],[39.2,-4.6]],[[34,4.2],[35,1.5],[34,0],[34,-1],[30.5,-1]],[[35.2,5],[39,3.5],[41,3.9]],[[36.5,14.5],[38,14.5],[40,14.5],[42.4,12.5],[43,11]],[[27,-29.6],[28.6,-28.6],[29.4,-29.6],[28,-30.6],[27,-29.6]],
  // Europe
  [[26.6,48.3],[29,47.5],[30,46.4],[28.3,45.5]],[[40,49.6],[36,50.4],[33.5,52.3],[31,52.5],[31,55],[28.2,56.2]],[[24,51.5],[31,51.5]],[[19,44.5],[21,42.3],[19.5,42]],[[20.5,40.5],[26.5,41.5]],
  // Asia
  [[49,46.3],[47,48],[47,50],[51,51.5],[55,50.8],[60,51],[62,54],[69,55.3],[77,54],[80.5,51],[87.3,49.1],[92,50.7],[98,50.2],[98,52],[102,50.5],[107,50],[114,50],[117,49.6],[120,53.3],[125,53],[131,47.7],[135,48.4],[131,43],[130.5,42.5]],[[87.3,49.1],[91,46],[96,42.7],[105,41.6],[111,43.6],[112,45],[119,46.7],[117,49.6]],[[87.3,49.1],[85,47],[82.5,45.3],[80,42.2],[74.5,43],[71,42.2]],[[80,42.2],[76,40.5],[73.7,39.5],[70,40]],[[73.7,39.5],[74.8,37.2],[78,35.5],[79,32.5],[81,30.3],[88,28],[92,28],[97,28.2]],[[81,30.3],[80,28.8],[88,26.4],[88,28]],[[74,34.7],[75,32.5],[74,30],[71,27.8],[70,25],[68.2,23.7]],[[61,29.5],[63,27],[61.5,25.1]],[[44.8,39.7],[48,39.5],[48.9,38.4]],[[43.4,41.2],[46.5,41.8],[49.5,41.5]],[[88,26.4],[89,25],[88.7,22]],[[88.6,25.3],[92,25.1],[92.5,24.5],[92.3,21]],[[101.2,21.5],[102,22.4],[105.5,23],[108,21.6]],[[102,22.4],[104,19],[107.5,15],[107.5,12]],[[107.5,14.5],[106,11],[105,10.4]],[[100.2,20.3],[101,17.5],[105,14.5]],[[105.5,14.3],[102.5,13.5],[102.9,11.6]],[[43.2,16.6],[46.5,17.3],[49,18.5],[52,19],[53.1,16.6]],
  [[141,-2.6],[141,-9.1]]
];

const bands = [
  { rings: band20to39, color: '#e98e39' },
  { rings: noDataRings, color: '#f2ece4' },
  { rings: band0to19, color: '#e52d35' },
  { rings: band40to59, color: '#fade2f' },
  { rings: band60to79, color: '#bdb823' },
  { rings: band80to100, color: '#7a921c' },
  { rings: band20to39Enclaves, color: '#e98e39' }
];
const legendColors = ['#7a921c', '#bdb823', '#fade2f', '#e98e39', '#e52d35'];

// Robinson table: parallel length and distance from the equator, every 5 degrees
const robinsonLats = d3.range(0, 95, 5);
const parallelLength = d3.scaleLinear().domain(robinsonLats)
  .range([1, .9986, .9954, .99, .9822, .973, .96, .9427, .9216, .8962, .8679, .835, .7986, .7597, .7186, .6732, .6213, .5722, .5322]);
const parallelDistance = d3.scaleLinear().domain(robinsonLats)
  .range([0, .062, .124, .186, .248, .31, .372, .434, .4958, .5571, .6176, .6769, .7346, .7903, .8435, .8936, .9394, .9761, 1]);

// The original map is centred a bit east of Greenwich
const centerLon = 16.5, centerX = 949, centerY = 586, pxPerDegree = 4.27, pxPerDistance = 389.4;
const project = ([lon, lat]) => [
  centerX + pxPerDegree * parallelLength(Math.abs(lat)) * (lon - centerLon),
  centerY - Math.sign(lat) * pxPerDistance * parallelDistance(Math.abs(lat))
];
const line = d3.line();
const ringPath = r => line(r.map(project)) + 'Z';

const svg = d3.select('#chart');
const ink = '#141414';

// Header
svg.append('rect').attr('x', 0).attr('y', 2).attr('width', 1600).attr('height', 93).attr('fill', '#00769c');
svg.append('rect').attr('x', 0).attr('y', 944).attr('width', 1600).attr('height', 2).attr('fill', '#d5e8ee');

function label(text, x, y, opts = {}) {
  const t = svg.append('text')
    .attr('x', x).attr('y', y)
    .attr('font-size', opts.size || 33.5)
    .attr('font-weight', opts.bold ? 700 : 400)
    .attr('fill', opts.fill || ink)
    .attr('text-anchor', opts.anchor || 'start')
    .text(text);
  if (opts.width) t.attr('textLength', opts.width).attr('lengthAdjust', 'spacingAndGlyphs');
  return t;
}

label('Korruption weltweit', 19, 66, { size: 57, bold: true, fill: '#fff', width: 544 });
label('Ausmaß der bei öffentlichen Institutionen und Amtsträgern wahrgenommenen Korruption', 19, 154, { width: 1314 });
label('Korruptionsindex', 19, 201, { bold: true, width: 278 });
label('korruptionsfrei', 19, 252, { width: 211 });

// Map
const map = svg.append('g');
bands.forEach((band, i) => {
  map.append('g').selectAll('path').data(band.rings).join('path')
    .attr('d', ringPath)
    .attr('fill', band.color)
    .attr('stroke', r => (i === 0 || Math.abs(d3.polygonArea(r)) < 4) ? 'none' : '#fdf3e4')
    .attr('stroke-width', 0.7);
});
map.append('g').selectAll('path').data(borderLines).join('path')
  .attr('d', l => line(l.map(project)))
  .attr('fill', 'none')
  .attr('stroke', '#f9e4c6')
  .attr('stroke-width', 1);
map.append('g').selectAll('path').data(waterRings).join('path')
  .attr('d', ringPath)
  .attr('fill', '#fff');

// Colour legend
const legendY = d3.scalePoint().domain(legendLabels).range([267, 440]);
svg.selectAll('.swatch').data(legendLabels).join('rect')
  .attr('class', 'swatch')
  .attr('x', 20).attr('y', d => legendY(d)).attr('width', 36).attr('height', 36)
  .attr('fill', (d, i) => legendColors[i]);
legendLabels.forEach(d => label(d, 65, legendY(d) + 30));
label('sehr korrupt', 19, 510, { width: 179 });
svg.append('rect').attr('x', 21).attr('y', 527).attr('width', 36).attr('height', 36).attr('fill', '#f2ece4');
label('keine Angaben', 66, 556, { width: 222 });

// Germany and Greece
highlightNames.forEach((name, i) => {
  const y = 597 + i * 55;
  svg.append('rect').attr('x', 18).attr('y', y).attr('width', 291).attr('height', 45).attr('fill', legendColors[i === 0 ? 1 : 3]);
  label(name, 27, y + 34, { bold: true });
  label(highlightValues[i], 301, y + 34, { bold: true, anchor: 'end' });
});

// Top and bottom tables
const tables = [
  { x: 18, color: legendColors[0], head: ['sauberste', 'Länder'], names: cleanestNames, values: cleanestValues },
  { x: 292, color: legendColors[4], head: ['korrupteste', 'Länder'], names: mostCorruptNames, values: mostCorruptValues }
];
const rowY = [847, 885, 922];
tables.forEach(t => {
  svg.append('rect').attr('x', t.x).attr('y', 733).attr('width', 261).attr('height', 81).attr('fill', t.color);
  t.head.forEach((h, i) => label(h, t.x + 12, 765 + i * 38, { bold: true, fill: '#fff' }));
  t.names.forEach((name, i) => {
    label(name, t.x + 12, rowY[i]);
    label(t.values[i], t.x + 249, rowY[i], { anchor: 'end' });
  });
});

// Footer
label('Quelle: Transparency International', 702, 924, { size: 30, width: 446 });
label('dpa•17885', 1416, 924, { size: 30, bold: true, width: 158 });
</script>
</body>
</html>
